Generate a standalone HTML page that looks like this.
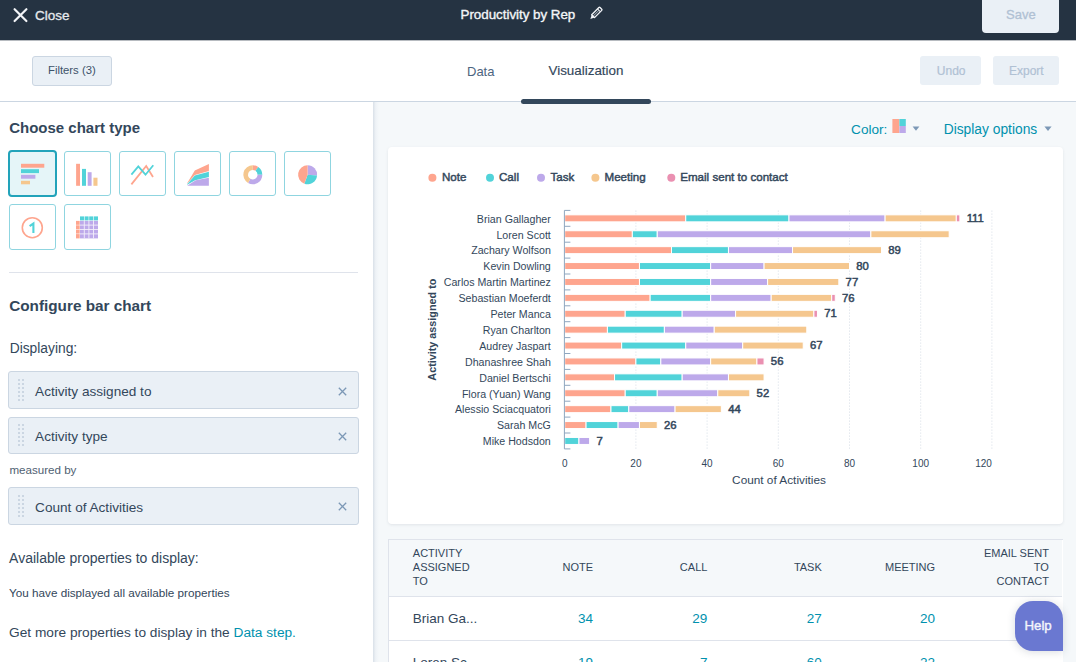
<!DOCTYPE html>
<html><head><meta charset="utf-8">
<style>
*{box-sizing:border-box;margin:0;padding:0}
html,body{width:1076px;height:666px;overflow:hidden;background:#fff}
body{position:relative;font-family:"Liberation Sans",sans-serif;color:#33475b}
.a{position:absolute;white-space:nowrap}
.t{position:absolute;white-space:nowrap}
#top{position:absolute;left:0;top:0;width:1076px;height:40px;background:#253342;box-shadow:0 0.6px 0 rgba(37,51,66,0.55);z-index:2}
#sub{position:absolute;left:0;top:40px;width:1076px;height:62px;background:#fff;border-bottom:1px solid #cbd6e2}
.btn{position:absolute;background:#eaf0f6;border-radius:3px}
#left{position:absolute;left:0;top:102px;width:373px;height:560px;background:#fff}
#right{position:absolute;left:373px;top:102px;width:703px;height:560px;background:#f5f8fa;overflow:hidden}
#shadow{position:absolute;left:373px;top:102px;width:6px;height:560px;background:linear-gradient(to right,#d9e0e8,#eef2f6 45%,#f5f8fa)}
.box{position:absolute;width:47px;height:45px;border:1.5px solid #8fd5e0;border-radius:3px;background:#fff}
.field{position:absolute;left:8px;width:351px;height:38px;background:#eaf0f6;border:1px solid #cbd6e2;border-radius:3px}
#bottom{position:absolute;left:0;top:662px;width:1076px;height:4px;background:#fff}
</style></head><body>

<!-- top bar -->
<div id="top">
  <svg class="a" style="left:12px;top:7px" width="16" height="16" viewBox="0 0 16 16"><path d="M2.6 2.2L14.4 14M14.4 2.2L2.6 14" stroke="#f2f4f7" stroke-width="2.2" stroke-linecap="round"/></svg>
  <div class="t" style="left:35px;top:8.6px;font-size:13.5px;line-height:13.5px;-webkit-text-stroke:0.3px #e6e9ed;color:#e6e9ed">Close</div>
  <div class="t" style="left:460.5px;top:8.4px;font-size:13.4px;line-height:13.4px;-webkit-text-stroke:0.35px #f4f6f8;letter-spacing:-0.03px;color:#f4f6f8">Productivity by Rep</div>
  <svg class="a" style="left:585px;top:4px" width="21" height="20" viewBox="0 0 21 20"><g transform="translate(10.5,9.8) rotate(-45) scale(0.74)"><path d="M-4.6 -2.7H9.2Q10.3 -2.7 10.3 -1.6V1.6Q10.3 2.7 9.2 2.7H-4.6Z" fill="none" stroke="#f2f4f7" stroke-width="1.8" stroke-linejoin="round"/><path d="M-4.6 -2.7L-9.8 0L-4.6 2.7Z" fill="#f2f4f7"/><path d="M6.6 -2.7V2.7" stroke="#f2f4f7" stroke-width="1.3"/><path d="M-4.6 0H6.6" stroke="#f2f4f7" stroke-width="0.9"/></g></svg>
  <div class="btn" style="left:982px;top:-4px;width:77px;height:37px;border-radius:4px"></div>
  <div class="t" style="left:1006px;top:7.8px;font-size:13px;line-height:13px;-webkit-text-stroke:0.3px #b0c1d4;color:#b0c1d4">Save</div>
</div>

<!-- sub header -->
<div id="sub">
  <div class="btn" style="left:32px;top:16px;width:80px;height:30px;border:1px solid #cbd6e2"></div>
  <div class="t" style="left:48px;top:25.3px;font-size:11.3px;line-height:11.3px;color:#3d5269">Filters (3)</div>
  <div class="t" style="left:467px;top:24.5px;font-size:13px;line-height:13px;color:#4d6580">Data</div>
  <div class="t" style="left:548.5px;top:24.2px;font-size:13.4px;line-height:13.4px;-webkit-text-stroke:0.15px #33475b;color:#33475b">Visualization</div>
  <div class="btn" style="left:920px;top:16px;width:61px;height:29px"></div>
  <div class="t" style="left:936.8px;top:24.7px;font-size:12px;line-height:12px;-webkit-text-stroke:0.2px #b0c1d4;color:#b0c1d4">Undo</div>
  <div class="btn" style="left:993px;top:16px;width:66px;height:29px"></div>
  <div class="t" style="left:1009px;top:24.7px;font-size:12px;line-height:12px;-webkit-text-stroke:0.2px #b0c1d4;color:#b0c1d4">Export</div>
</div>

<!-- left panel -->
<div id="left"></div>
<div class="t" style="left:9.2px;top:119.6px;font-size:15px;line-height:15px;font-weight:700;color:#33475b">Choose chart type</div>
<!-- chart type boxes -->
<div class="box" style="left:8px;top:150px;width:49px;height:47px;border:2.5px solid #22a3ba;background:#e5f5f8;border-radius:4px"></div>
<svg class="a" style="left:21px;top:163px" width="24" height="22"><rect x="0" y="0.8" width="23.3" height="3.9" fill="#fea58e"/><rect x="0" y="6.2" width="18" height="3.9" fill="#51d3d9"/><rect x="0" y="11.8" width="14.4" height="3.9" fill="#bda9ea"/><rect x="0" y="17.8" width="9" height="3.5" fill="#f5c78e"/></svg>
<div class="box" style="left:64px;top:151px"></div>
<svg class="a" style="left:76px;top:163px" width="22" height="24"><rect x="0.1" y="0.8" width="3.9" height="22" fill="#fea58e"/><rect x="6" y="5.9" width="4" height="16.9" fill="#51d3d9"/><rect x="11.7" y="9.2" width="3.9" height="13.6" fill="#bda9ea"/><rect x="17.4" y="14.7" width="4.1" height="8.1" fill="#f5c78e"/></svg>
<div class="box" style="left:119px;top:151px"></div>
<svg class="a" style="left:119px;top:151px" width="47" height="45"><polyline points="12.4,33.4 27.2,15 34,25.9" fill="none" stroke="#fea58e" stroke-width="1.8"/><polyline points="12.4,23.7 19.3,15.5 26.5,23.7 34.3,14.2" fill="none" stroke="#51d3d9" stroke-width="1.8"/></svg>
<div class="box" style="left:174px;top:151px"></div>
<svg class="a" style="left:174px;top:151px" width="47" height="45"><path d="M13.1 32.3L20.8 19.6L34.9 12.9L34.9 20.1L20.8 24L13.1 32.8Z" fill="#fea58e"/><path d="M13.1 33.2L20.8 24.4L34.9 20.8L34.9 26L21.2 29.3L13.1 33.8Z" fill="#51d3d9"/><path d="M13.1 34.7L21.8 29.3L34.9 26.8L34.9 34.7Z" fill="#bda9ea"/></svg>
<div class="box" style="left:229px;top:151px"></div>
<svg class="a" style="left:229px;top:151px" width="47" height="45" viewBox="0 0 47 45">
 <g transform="translate(23.8,23.7)">
  <path d="M0 -9.5A9.5 9.5 0 0 1 5.45 -7.78L2.72 -3.89A4.75 4.75 0 0 0 0 -4.75Z" fill="#fea58e"/>
  <path d="M5.45 -7.78A9.5 9.5 0 0 1 9.5 0L4.75 0A4.75 4.75 0 0 0 2.72 -3.89Z" fill="#51d3d9"/>
  <path d="M9.5 0A9.5 9.5 0 0 1 -4.75 8.23L-2.375 4.11A4.75 4.75 0 0 0 4.75 0Z" fill="#bda9ea"/>
  <path d="M-4.75 8.23A9.5 9.5 0 0 1 0 -9.5L0 -4.75A4.75 4.75 0 0 0 -2.375 4.11Z" fill="#f5c78e"/>
 </g></svg>
<div class="box" style="left:284px;top:151px"></div>
<svg class="a" style="left:284px;top:151px" width="47" height="45" viewBox="0 0 47 45">
 <g transform="translate(23.6,23.7)">
  <path d="M0 0L0 -9.5A9.5 9.5 0 0 1 9.46 0.83Z" fill="#bda9ea"/>
  <path d="M0 0L9.46 0.83A9.5 9.5 0 0 1 -3.25 8.93Z" fill="#51d3d9"/>
  <path d="M0 0L-3.25 8.93A9.5 9.5 0 0 1 0 -9.5Z" fill="#fea58e"/>
 </g></svg>
<div class="box" style="left:9px;top:204px;height:46px"></div>
<svg class="a" style="left:9px;top:204px" width="47" height="46" viewBox="0 0 47 46"><circle cx="23.3" cy="23.7" r="10" fill="none" stroke="#fea58e" stroke-width="1.6"/><path d="M20.6 22.2L24.4 19.6V28.9" fill="none" stroke="#51d3d9" stroke-width="2.1" stroke-linejoin="miter"/></svg>
<div class="box" style="left:64px;top:204px;height:46px"></div>
<svg class="a" style="left:76px;top:216px" width="23" height="23">
 <g fill="#51d3d9"><rect x="4" y="0.4" width="4" height="4"/><rect x="8.6" y="0.4" width="4" height="4"/><rect x="13.2" y="0.4" width="4" height="4"/><rect x="17.8" y="0.4" width="4.2" height="4"/></g>
 <g fill="#fea58e"><rect x="0" y="4.9" width="3.7" height="3.9"/><rect x="0" y="9.3" width="3.7" height="3.9"/><rect x="0" y="13.7" width="3.7" height="3.9"/><rect x="0" y="18.1" width="3.7" height="4.3"/></g>
 <g fill="#bda9ea"><rect x="4" y="4.9" width="18" height="17.5"/></g>
 <g stroke="#f3effb" stroke-width="0.9"><path d="M8.3 4.5V22.4M12.9 4.5V22.4M17.5 4.5V22.4M4 9.1H22M4 13.5H22M4 17.9H22"/></g>
</svg>
<div class="a" style="left:9px;top:272px;width:349px;height:1px;background:#dfe3eb"></div>
<div class="t" style="left:9.2px;top:298px;font-size:15.3px;line-height:15.3px;font-weight:700;color:#33475b">Configure bar chart</div>
<div class="t" style="left:9.7px;top:342.2px;font-size:13.8px;line-height:13.8px;color:#33475b">Displaying:</div>

<div class="field" style="top:371px"></div>
<div class="field" style="top:417px;height:37px"></div>
<div class="field" style="top:487px"></div>
<svg class="a" style="left:17px;top:379px" width="8" height="24"><g fill="#cbd6e2"><rect x="1" y="0" width="2" height="2"/><rect x="5" y="0" width="2" height="2"/><rect x="1" y="4" width="2" height="2"/><rect x="5" y="4" width="2" height="2"/><rect x="1" y="8" width="2" height="2"/><rect x="5" y="8" width="2" height="2"/><rect x="1" y="12" width="2" height="2"/><rect x="5" y="12" width="2" height="2"/><rect x="1" y="16" width="2" height="2"/><rect x="5" y="16" width="2" height="2"/><rect x="1" y="20" width="2" height="2"/><rect x="5" y="20" width="2" height="2"/></g></svg>
<svg class="a" style="left:17px;top:424px" width="8" height="24"><g fill="#cbd6e2"><rect x="1" y="0" width="2" height="2"/><rect x="5" y="0" width="2" height="2"/><rect x="1" y="4" width="2" height="2"/><rect x="5" y="4" width="2" height="2"/><rect x="1" y="8" width="2" height="2"/><rect x="5" y="8" width="2" height="2"/><rect x="1" y="12" width="2" height="2"/><rect x="5" y="12" width="2" height="2"/><rect x="1" y="16" width="2" height="2"/><rect x="5" y="16" width="2" height="2"/><rect x="1" y="20" width="2" height="2"/><rect x="5" y="20" width="2" height="2"/></g></svg>
<svg class="a" style="left:17px;top:495px" width="8" height="24"><g fill="#cbd6e2"><rect x="1" y="0" width="2" height="2"/><rect x="5" y="0" width="2" height="2"/><rect x="1" y="4" width="2" height="2"/><rect x="5" y="4" width="2" height="2"/><rect x="1" y="8" width="2" height="2"/><rect x="5" y="8" width="2" height="2"/><rect x="1" y="12" width="2" height="2"/><rect x="5" y="12" width="2" height="2"/><rect x="1" y="16" width="2" height="2"/><rect x="5" y="16" width="2" height="2"/><rect x="1" y="20" width="2" height="2"/><rect x="5" y="20" width="2" height="2"/></g></svg>
<div class="t" style="left:35.1px;top:384.5px;font-size:13.6px;line-height:13.6px;color:#33475b">Activity assigned to</div>
<div class="t" style="left:35.1px;top:429.5px;font-size:13.6px;line-height:13.6px;color:#33475b">Activity type</div>
<div class="t" style="left:35.1px;top:500.7px;font-size:13.6px;line-height:13.6px;color:#33475b">Count of Activities</div>
<svg class="a" style="left:338px;top:387px" width="9" height="9"><path d="M0.8 0.8L8.2 8.2M8.2 0.8L0.8 8.2" stroke="#7c98b6" stroke-width="1.3"/></svg>
<svg class="a" style="left:338px;top:432px" width="9" height="9"><path d="M0.8 0.8L8.2 8.2M8.2 0.8L0.8 8.2" stroke="#7c98b6" stroke-width="1.3"/></svg>
<svg class="a" style="left:338px;top:502px" width="9" height="9"><path d="M0.8 0.8L8.2 8.2M8.2 0.8L0.8 8.2" stroke="#7c98b6" stroke-width="1.3"/></svg>
<div class="t" style="left:9.4px;top:464.1px;font-size:11.6px;line-height:11.6px;color:#506172">measured by</div>
<div class="t" style="left:9.1px;top:551.2px;font-size:14px;line-height:14px;color:#33475b">Available properties to display:</div>
<div class="t" style="left:9.1px;top:586.8px;font-size:11.7px;line-height:11.7px;color:#33475b">You have displayed all available properties</div>
<div class="t" style="left:9.1px;top:626.4px;font-size:13.7px;line-height:13.7px;color:#33475b">Get more properties to display in the <span style="color:#0091ae">Data step.</span></div>

<!-- right area -->
<div id="right"></div>
<div id="shadow"></div>
<!--RIGHT-->
<div class="a" style="left:388px;top:147px;width:675px;height:377px;background:#fff;border-radius:4px;box-shadow:0 1px 3px rgba(45,62,80,0.10)"></div>
<svg class="a" style="left:0;top:0" width="1076" height="666" viewBox="0 0 1076 666">
<line x1="635.90" y1="210.40" x2="635.90" y2="448.90" stroke="#e3e8ee" stroke-width="1" stroke-dasharray="1.5,1.5"/>
<line x1="707.10" y1="210.40" x2="707.10" y2="448.90" stroke="#e3e8ee" stroke-width="1" stroke-dasharray="1.5,1.5"/>
<line x1="778.30" y1="210.40" x2="778.30" y2="448.90" stroke="#e3e8ee" stroke-width="1" stroke-dasharray="1.5,1.5"/>
<line x1="849.50" y1="210.40" x2="849.50" y2="448.90" stroke="#e3e8ee" stroke-width="1" stroke-dasharray="1.5,1.5"/>
<line x1="920.70" y1="210.40" x2="920.70" y2="448.90" stroke="#e3e8ee" stroke-width="1" stroke-dasharray="1.5,1.5"/>
<line x1="991.90" y1="210.40" x2="991.90" y2="448.90" stroke="#e3e8ee" stroke-width="1" stroke-dasharray="1.5,1.5"/>
<rect x="564.70" y="214.85" width="121.04" height="7.0" fill="#fea58e" stroke="#fff" stroke-width="1"/>
<rect x="685.74" y="214.85" width="103.24" height="7.0" fill="#51d3d9" stroke="#fff" stroke-width="1"/>
<rect x="788.98" y="214.85" width="96.12" height="7.0" fill="#bda9ea" stroke="#fff" stroke-width="1"/>
<rect x="885.10" y="214.85" width="71.20" height="7.0" fill="#f5c78e" stroke="#fff" stroke-width="1"/>
<rect x="956.30" y="214.85" width="3.56" height="7.0" fill="#ea90b1" stroke="#fff" stroke-width="1"/>
<text x="966.66" y="222.05" font-family="Liberation Sans" font-size="11.3" fill="#33475b" stroke="#33475b" stroke-width="0.5">111</text>
<text x="550.8" y="222.65" text-anchor="end" font-family="Liberation Sans" font-size="10.65" fill="#33475b">Brian Gallagher</text>
<rect x="564.70" y="230.75" width="67.64" height="7.0" fill="#fea58e" stroke="#fff" stroke-width="1"/>
<rect x="632.34" y="230.75" width="24.92" height="7.0" fill="#51d3d9" stroke="#fff" stroke-width="1"/>
<rect x="657.26" y="230.75" width="213.60" height="7.0" fill="#bda9ea" stroke="#fff" stroke-width="1"/>
<rect x="870.86" y="230.75" width="78.32" height="7.0" fill="#f5c78e" stroke="#fff" stroke-width="1"/>
<text x="550.8" y="238.55" text-anchor="end" font-family="Liberation Sans" font-size="10.65" fill="#33475b">Loren Scott</text>
<rect x="564.70" y="246.65" width="106.80" height="7.0" fill="#fea58e" stroke="#fff" stroke-width="1"/>
<rect x="671.50" y="246.65" width="56.96" height="7.0" fill="#51d3d9" stroke="#fff" stroke-width="1"/>
<rect x="728.46" y="246.65" width="64.08" height="7.0" fill="#bda9ea" stroke="#fff" stroke-width="1"/>
<rect x="792.54" y="246.65" width="89.00" height="7.0" fill="#f5c78e" stroke="#fff" stroke-width="1"/>
<text x="888.34" y="253.85" font-family="Liberation Sans" font-size="11.3" fill="#33475b" stroke="#33475b" stroke-width="0.5">89</text>
<text x="550.8" y="254.45" text-anchor="end" font-family="Liberation Sans" font-size="10.65" fill="#33475b">Zachary Wolfson</text>
<rect x="564.70" y="262.55" width="74.76" height="7.0" fill="#fea58e" stroke="#fff" stroke-width="1"/>
<rect x="639.46" y="262.55" width="71.20" height="7.0" fill="#51d3d9" stroke="#fff" stroke-width="1"/>
<rect x="710.66" y="262.55" width="53.40" height="7.0" fill="#bda9ea" stroke="#fff" stroke-width="1"/>
<rect x="764.06" y="262.55" width="85.44" height="7.0" fill="#f5c78e" stroke="#fff" stroke-width="1"/>
<text x="856.30" y="269.75" font-family="Liberation Sans" font-size="11.3" fill="#33475b" stroke="#33475b" stroke-width="0.5">80</text>
<text x="550.8" y="270.35" text-anchor="end" font-family="Liberation Sans" font-size="10.65" fill="#33475b">Kevin Dowling</text>
<rect x="564.70" y="278.45" width="74.76" height="7.0" fill="#fea58e" stroke="#fff" stroke-width="1"/>
<rect x="639.46" y="278.45" width="71.20" height="7.0" fill="#51d3d9" stroke="#fff" stroke-width="1"/>
<rect x="710.66" y="278.45" width="56.96" height="7.0" fill="#bda9ea" stroke="#fff" stroke-width="1"/>
<rect x="767.62" y="278.45" width="71.20" height="7.0" fill="#f5c78e" stroke="#fff" stroke-width="1"/>
<text x="845.62" y="285.65" font-family="Liberation Sans" font-size="11.3" fill="#33475b" stroke="#33475b" stroke-width="0.5">77</text>
<text x="550.8" y="286.25" text-anchor="end" font-family="Liberation Sans" font-size="10.65" fill="#33475b">Carlos Martin Martinez</text>
<rect x="564.70" y="294.35" width="85.44" height="7.0" fill="#fea58e" stroke="#fff" stroke-width="1"/>
<rect x="650.14" y="294.35" width="60.52" height="7.0" fill="#51d3d9" stroke="#fff" stroke-width="1"/>
<rect x="710.66" y="294.35" width="60.52" height="7.0" fill="#bda9ea" stroke="#fff" stroke-width="1"/>
<rect x="771.18" y="294.35" width="60.52" height="7.0" fill="#f5c78e" stroke="#fff" stroke-width="1"/>
<rect x="831.70" y="294.35" width="3.56" height="7.0" fill="#ea90b1" stroke="#fff" stroke-width="1"/>
<text x="842.06" y="301.55" font-family="Liberation Sans" font-size="11.3" fill="#33475b" stroke="#33475b" stroke-width="0.5">76</text>
<text x="550.8" y="302.15" text-anchor="end" font-family="Liberation Sans" font-size="10.65" fill="#33475b">Sebastian Moeferdt</text>
<rect x="564.70" y="310.25" width="60.52" height="7.0" fill="#fea58e" stroke="#fff" stroke-width="1"/>
<rect x="625.22" y="310.25" width="56.96" height="7.0" fill="#51d3d9" stroke="#fff" stroke-width="1"/>
<rect x="682.18" y="310.25" width="53.40" height="7.0" fill="#bda9ea" stroke="#fff" stroke-width="1"/>
<rect x="735.58" y="310.25" width="78.32" height="7.0" fill="#f5c78e" stroke="#fff" stroke-width="1"/>
<rect x="813.90" y="310.25" width="3.56" height="7.0" fill="#ea90b1" stroke="#fff" stroke-width="1"/>
<text x="824.26" y="317.45" font-family="Liberation Sans" font-size="11.3" fill="#33475b" stroke="#33475b" stroke-width="0.5">71</text>
<text x="550.8" y="318.05" text-anchor="end" font-family="Liberation Sans" font-size="10.65" fill="#33475b">Peter Manca</text>
<rect x="564.70" y="326.15" width="42.72" height="7.0" fill="#fea58e" stroke="#fff" stroke-width="1"/>
<rect x="607.42" y="326.15" width="56.96" height="7.0" fill="#51d3d9" stroke="#fff" stroke-width="1"/>
<rect x="664.38" y="326.15" width="49.84" height="7.0" fill="#bda9ea" stroke="#fff" stroke-width="1"/>
<rect x="714.22" y="326.15" width="92.56" height="7.0" fill="#f5c78e" stroke="#fff" stroke-width="1"/>
<text x="550.8" y="333.95" text-anchor="end" font-family="Liberation Sans" font-size="10.65" fill="#33475b">Ryan Charlton</text>
<rect x="564.70" y="342.05" width="56.96" height="7.0" fill="#fea58e" stroke="#fff" stroke-width="1"/>
<rect x="621.66" y="342.05" width="64.08" height="7.0" fill="#51d3d9" stroke="#fff" stroke-width="1"/>
<rect x="685.74" y="342.05" width="56.96" height="7.0" fill="#bda9ea" stroke="#fff" stroke-width="1"/>
<rect x="742.70" y="342.05" width="60.52" height="7.0" fill="#f5c78e" stroke="#fff" stroke-width="1"/>
<text x="810.02" y="349.25" font-family="Liberation Sans" font-size="11.3" fill="#33475b" stroke="#33475b" stroke-width="0.5">67</text>
<text x="550.8" y="349.85" text-anchor="end" font-family="Liberation Sans" font-size="10.65" fill="#33475b">Audrey Jaspart</text>
<rect x="564.70" y="357.95" width="71.20" height="7.0" fill="#fea58e" stroke="#fff" stroke-width="1"/>
<rect x="635.90" y="357.95" width="24.92" height="7.0" fill="#51d3d9" stroke="#fff" stroke-width="1"/>
<rect x="660.82" y="357.95" width="49.84" height="7.0" fill="#bda9ea" stroke="#fff" stroke-width="1"/>
<rect x="710.66" y="357.95" width="46.28" height="7.0" fill="#f5c78e" stroke="#fff" stroke-width="1"/>
<rect x="756.94" y="357.95" width="7.12" height="7.0" fill="#ea90b1" stroke="#fff" stroke-width="1"/>
<text x="770.86" y="365.15" font-family="Liberation Sans" font-size="11.3" fill="#33475b" stroke="#33475b" stroke-width="0.5">56</text>
<text x="550.8" y="365.75" text-anchor="end" font-family="Liberation Sans" font-size="10.65" fill="#33475b">Dhanashree Shah</text>
<rect x="564.70" y="373.85" width="49.84" height="7.0" fill="#fea58e" stroke="#fff" stroke-width="1"/>
<rect x="614.54" y="373.85" width="67.64" height="7.0" fill="#51d3d9" stroke="#fff" stroke-width="1"/>
<rect x="682.18" y="373.85" width="46.28" height="7.0" fill="#bda9ea" stroke="#fff" stroke-width="1"/>
<rect x="728.46" y="373.85" width="35.60" height="7.0" fill="#f5c78e" stroke="#fff" stroke-width="1"/>
<text x="550.8" y="381.65" text-anchor="end" font-family="Liberation Sans" font-size="10.65" fill="#33475b">Daniel Bertschi</text>
<rect x="564.70" y="389.75" width="60.52" height="7.0" fill="#fea58e" stroke="#fff" stroke-width="1"/>
<rect x="625.22" y="389.75" width="32.04" height="7.0" fill="#51d3d9" stroke="#fff" stroke-width="1"/>
<rect x="657.26" y="389.75" width="60.52" height="7.0" fill="#bda9ea" stroke="#fff" stroke-width="1"/>
<rect x="717.78" y="389.75" width="32.04" height="7.0" fill="#f5c78e" stroke="#fff" stroke-width="1"/>
<text x="756.62" y="396.95" font-family="Liberation Sans" font-size="11.3" fill="#33475b" stroke="#33475b" stroke-width="0.5">52</text>
<text x="550.8" y="397.55" text-anchor="end" font-family="Liberation Sans" font-size="10.65" fill="#33475b">Flora (Yuan) Wang</text>
<rect x="564.70" y="405.65" width="46.28" height="7.0" fill="#fea58e" stroke="#fff" stroke-width="1"/>
<rect x="610.98" y="405.65" width="17.80" height="7.0" fill="#51d3d9" stroke="#fff" stroke-width="1"/>
<rect x="628.78" y="405.65" width="46.28" height="7.0" fill="#bda9ea" stroke="#fff" stroke-width="1"/>
<rect x="675.06" y="405.65" width="46.28" height="7.0" fill="#f5c78e" stroke="#fff" stroke-width="1"/>
<text x="728.14" y="412.85" font-family="Liberation Sans" font-size="11.3" fill="#33475b" stroke="#33475b" stroke-width="0.5">44</text>
<text x="550.8" y="413.45" text-anchor="end" font-family="Liberation Sans" font-size="10.65" fill="#33475b">Alessio Sciacquatori</text>
<rect x="564.70" y="421.55" width="21.36" height="7.0" fill="#fea58e" stroke="#fff" stroke-width="1"/>
<rect x="586.06" y="421.55" width="32.04" height="7.0" fill="#51d3d9" stroke="#fff" stroke-width="1"/>
<rect x="618.10" y="421.55" width="21.36" height="7.0" fill="#bda9ea" stroke="#fff" stroke-width="1"/>
<rect x="639.46" y="421.55" width="17.80" height="7.0" fill="#f5c78e" stroke="#fff" stroke-width="1"/>
<text x="664.06" y="428.75" font-family="Liberation Sans" font-size="11.3" fill="#33475b" stroke="#33475b" stroke-width="0.5">26</text>
<text x="550.8" y="429.35" text-anchor="end" font-family="Liberation Sans" font-size="10.65" fill="#33475b">Sarah McG</text>
<rect x="564.70" y="437.45" width="14.24" height="7.0" fill="#51d3d9" stroke="#fff" stroke-width="1"/>
<rect x="578.94" y="437.45" width="10.68" height="7.0" fill="#bda9ea" stroke="#fff" stroke-width="1"/>
<text x="596.42" y="444.65" font-family="Liberation Sans" font-size="11.3" fill="#33475b" stroke="#33475b" stroke-width="0.5">7</text>
<text x="550.8" y="445.25" text-anchor="end" font-family="Liberation Sans" font-size="10.65" fill="#33475b">Mike Hodsdon</text>
<path d="M564.40 210.40V448.90" stroke="#8fa6bf" stroke-width="1"/>
<path d="M564.40 210.40H570.40" stroke="#8fa6bf" stroke-width="1"/>
<path d="M564.40 226.30H570.40" stroke="#8fa6bf" stroke-width="1"/>
<path d="M564.40 242.20H570.40" stroke="#8fa6bf" stroke-width="1"/>
<path d="M564.40 258.10H570.40" stroke="#8fa6bf" stroke-width="1"/>
<path d="M564.40 274.00H570.40" stroke="#8fa6bf" stroke-width="1"/>
<path d="M564.40 289.90H570.40" stroke="#8fa6bf" stroke-width="1"/>
<path d="M564.40 305.80H570.40" stroke="#8fa6bf" stroke-width="1"/>
<path d="M564.40 321.70H570.40" stroke="#8fa6bf" stroke-width="1"/>
<path d="M564.40 337.60H570.40" stroke="#8fa6bf" stroke-width="1"/>
<path d="M564.40 353.50H570.40" stroke="#8fa6bf" stroke-width="1"/>
<path d="M564.40 369.40H570.40" stroke="#8fa6bf" stroke-width="1"/>
<path d="M564.40 385.30H570.40" stroke="#8fa6bf" stroke-width="1"/>
<path d="M564.40 401.20H570.40" stroke="#8fa6bf" stroke-width="1"/>
<path d="M564.40 417.10H570.40" stroke="#8fa6bf" stroke-width="1"/>
<path d="M564.40 433.00H570.40" stroke="#8fa6bf" stroke-width="1"/>
<path d="M564.40 448.90H570.40" stroke="#8fa6bf" stroke-width="1"/>
<text x="564.70" y="467.2" text-anchor="middle" font-family="Liberation Sans" font-size="10" fill="#33475b">0</text>
<text x="635.90" y="467.2" text-anchor="middle" font-family="Liberation Sans" font-size="10" fill="#33475b">20</text>
<text x="707.10" y="467.2" text-anchor="middle" font-family="Liberation Sans" font-size="10" fill="#33475b">40</text>
<text x="778.30" y="467.2" text-anchor="middle" font-family="Liberation Sans" font-size="10" fill="#33475b">60</text>
<text x="849.50" y="467.2" text-anchor="middle" font-family="Liberation Sans" font-size="10" fill="#33475b">80</text>
<text x="920.70" y="467.2" text-anchor="middle" font-family="Liberation Sans" font-size="10" fill="#33475b">100</text>
<text x="991.90" y="467.2" text-anchor="end" font-family="Liberation Sans" font-size="10" fill="#33475b">120</text>
<text x="779" y="484" text-anchor="middle" font-family="Liberation Sans" font-size="11.8" fill="#33475b">Count of Activities</text>
<text transform="translate(436.3,329.65) rotate(-90)" x="0" y="0" text-anchor="middle" font-family="Liberation Sans" font-weight="700" font-size="10.8" fill="#33475b">Activity assigned to</text>
<circle cx="432.4" cy="177.7" r="4" fill="#fea58e"/>
<text x="441.9" y="180.8" font-family="Liberation Sans" font-size="11.6" fill="#33475b" stroke="#33475b" stroke-width="0.45">Note</text>
<circle cx="490" cy="177.7" r="4" fill="#51d3d9"/>
<text x="499" y="180.8" font-family="Liberation Sans" font-size="11.6" fill="#33475b" stroke="#33475b" stroke-width="0.45">Call</text>
<circle cx="541" cy="177.7" r="4" fill="#bda9ea"/>
<text x="550.5" y="180.8" font-family="Liberation Sans" font-size="11.6" fill="#33475b" stroke="#33475b" stroke-width="0.45">Task</text>
<circle cx="595.4" cy="177.7" r="4" fill="#f5c78e"/>
<text x="604.5" y="180.8" font-family="Liberation Sans" font-size="11.6" fill="#33475b" stroke="#33475b" stroke-width="0.45">Meeting</text>
<circle cx="671.3" cy="177.7" r="4" fill="#ea90b1"/>
<text x="680.2" y="180.8" font-family="Liberation Sans" font-size="11.6" fill="#33475b" stroke="#33475b" stroke-width="0.45">Email sent to contact</text>
</svg>
<div class="t" style="left:851.1px;top:122.8px;font-size:13.6px;line-height:13.6px;color:#0091ae">Color:</div>
<svg class="a" style="left:892px;top:119px" width="14" height="14"><rect x="0.4" y="0" width="7" height="14" fill="#fea58e"/><rect x="7.4" y="0" width="6.4" height="7" fill="#51d3d9"/><rect x="7.4" y="7" width="6.4" height="7" fill="#bda9ea"/></svg>
<svg class="a" style="left:912px;top:125.5px" width="8" height="5"><path d="M0.6 0.5H7.4L4 4.8Z" fill="#7c98b6"/></svg>
<div class="t" style="left:943.7px;top:122.8px;font-size:13.8px;line-height:13.8px;color:#0091ae">Display options</div>
<svg class="a" style="left:1043.5px;top:125.5px" width="8" height="5"><path d="M0.4 0.5H7.6L4 4.9Z" fill="#7c98b6"/></svg>
<div class="a" style="left:388px;top:539px;width:675px;height:123px;background:#fff;border:1px solid #dfe3eb;border-bottom:none;border-right:none;overflow:hidden">
 <div class="a" style="left:0;top:0;width:673px;height:57px;background:#f5f8fa;border-bottom:1px solid #dfe3eb"></div>
 <div class="a" style="left:0;top:100px;width:673px;height:1px;background:#dfe3eb"></div>
</div>
<div class="t" style="left:412.8px;top:547.4px;font-size:11px;line-height:13.6px;color:#33475b">ACTIVITY<br>ASSIGNED<br>TO</div>
<div class="t" style="left:393px;width:200px;text-align:right;top:561.2px;font-size:11px;line-height:13.6px;color:#33475b">NOTE</div>
<div class="t" style="left:507.4px;width:200px;text-align:right;top:561.2px;font-size:11px;line-height:13.6px;color:#33475b">CALL</div>
<div class="t" style="left:621.8px;width:200px;text-align:right;top:561.2px;font-size:11px;line-height:13.6px;color:#33475b">TASK</div>
<div class="t" style="left:735.1px;width:200px;text-align:right;top:561.2px;font-size:11px;line-height:13.6px;color:#33475b">MEETING</div>
<div class="t" style="left:848.9000000000001px;width:200px;text-align:right;top:547.4px;font-size:11px;line-height:13.6px;color:#33475b">EMAIL SENT<br>TO<br>CONTACT</div>
<div class="t" style="left:412.8px;top:611.8px;font-size:13.5px;line-height:13.5px;color:#33475b">Brian Ga...</div>
<div class="t" style="left:493px;width:100px;text-align:right;top:612.3px;font-size:13.5px;line-height:13.5px;color:#0091ae">34</div>
<div class="t" style="left:607.4px;width:100px;text-align:right;top:612.3px;font-size:13.5px;line-height:13.5px;color:#0091ae">29</div>
<div class="t" style="left:721.8px;width:100px;text-align:right;top:612.3px;font-size:13.5px;line-height:13.5px;color:#0091ae">27</div>
<div class="t" style="left:835.1px;width:100px;text-align:right;top:612.3px;font-size:13.5px;line-height:13.5px;color:#0091ae">20</div>
<div class="t" style="left:412.8px;top:655.8px;font-size:13.5px;line-height:13.5px;color:#33475b">Loren Sc...</div>
<div class="t" style="left:493px;width:100px;text-align:right;top:656.3px;font-size:13.5px;line-height:13.5px;color:#0091ae">19</div>
<div class="t" style="left:607.4px;width:100px;text-align:right;top:656.3px;font-size:13.5px;line-height:13.5px;color:#0091ae">7</div>
<div class="t" style="left:721.8px;width:100px;text-align:right;top:656.3px;font-size:13.5px;line-height:13.5px;color:#0091ae">60</div>
<div class="t" style="left:835.1px;width:100px;text-align:right;top:656.3px;font-size:13.5px;line-height:13.5px;color:#0091ae">22</div>
<div class="a" style="left:1015px;top:601px;width:48px;height:50px;background:#6a78d1;border-radius:18px 18px 0 18px;box-shadow:0 1px 8px rgba(45,62,80,0.18)"></div>
<div class="t" style="left:1024.4px;top:619.4px;font-size:13.3px;line-height:13.3px;-webkit-text-stroke:0.4px #f4f5fb;color:#f4f5fb">Help</div>
<!--/RIGHT-->


<div class="a" style="left:521px;top:98.5px;width:130px;height:5px;border-radius:3px;background:#33475b"></div>
<div id="bottom"></div>
</body></html>
